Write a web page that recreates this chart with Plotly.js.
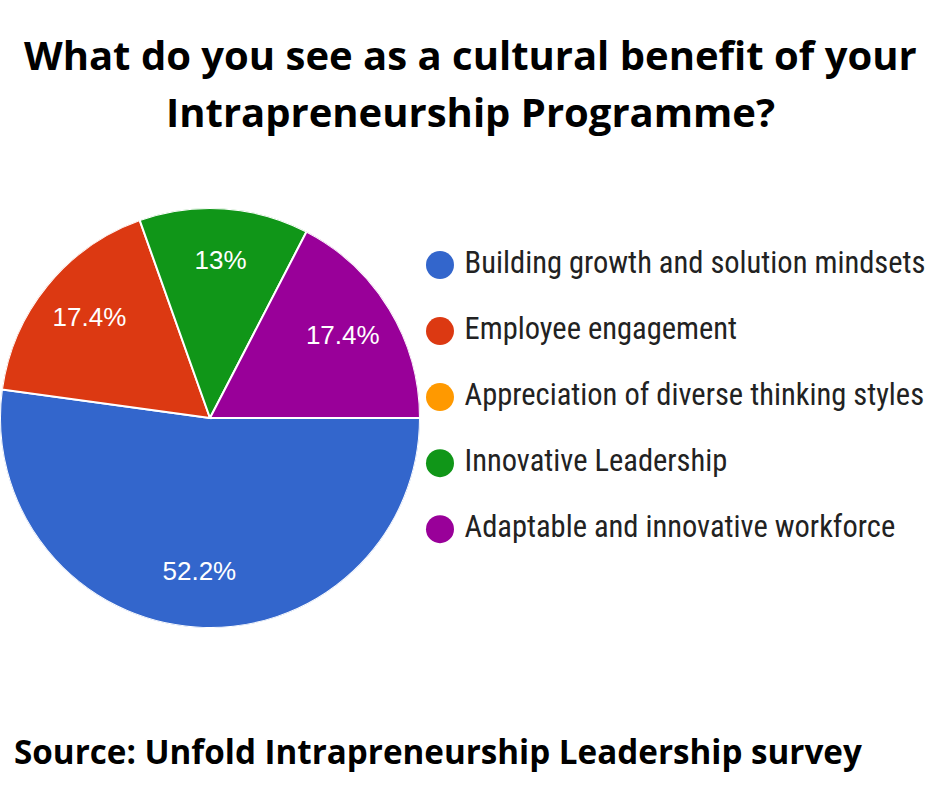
<html>
<head>
<script src="https://cdn.plot.ly/plotly-3.0.1.min.js"></script>
<style>
  body { margin: 0; background: #fff; }
  #myDiv { width: 940px; height: 788px; }
</style>
</head>
<body>
<div id="myDiv"></div>
<script>
// survey answers (23 responses)
var labels = ['Building growth and solution mindsets', 'Employee engagement',
  'Appreciation of diverse thinking styles', 'Innovative Leadership',
  'Adaptable and innovative workforce'];
var counts = [12, 4, 0, 3, 4];
var colours = ['#3366cc', '#dc3912', '#ff9900', '#109618', '#990099'];

// slice angles, in the order Google draws them (clockwise from 3 o'clock)
var total = counts.reduce(function(a, b) { return a + b; }, 0);
var widths = [], mids = [], pcts = [];
var run = 0;
for (var i = 0; i < counts.length; i++) {
  var w = counts[i] / total * 360;
  widths.push(w);
  mids.push(run + w / 2);
  run += w;
  var p = Math.round(counts[i] / total * 1000) / 10;
  pcts.push(counts[i] > 0 ? p + '%' : '');
}

var slices = {
  type: 'barpolar',
  r: counts.map(function() { return 1; }),
  theta: mids,
  width: widths,
  text: labels,
  marker: {color: colours, line: {color: '#ffffff', width: 2}},
  showlegend: false,
  hoverinfo: 'text'
};

var sliceText = {
  type: 'scatterpolar',
  mode: 'text',
  r: counts.map(function() { return 0.74; }),
  theta: mids,
  text: pcts,
  textfont: {family: 'Liberation Sans, Arial, sans-serif', size: 26, color: '#ffffff'},
  showlegend: false,
  hoverinfo: 'skip'
};

// legend drawn as a marker column so the dots can be big like the original
var keyDots = {
  type: 'scatter',
  mode: 'markers',
  x: labels.map(function() { return 0; }),
  y: labels,
  marker: {color: colours, size: 28, symbol: 'circle'},
  cliponaxis: false,
  showlegend: false,
  hoverinfo: 'skip'
};
var keyText = {
  type: 'scatter',
  mode: 'text',
  x: labels.map(function() { return 0.5; }),
  y: labels,
  text: labels,
  textposition: 'middle right',
  textfont: {family: 'Liberation Sans Narrow, Roboto Condensed, Arial Narrow, sans-serif', size: 30.5, color: '#222222'},
  cliponaxis: false,
  showlegend: false,
  hoverinfo: 'skip'
};

var layout = {
  width: 940,
  height: 788,
  margin: {l: 0, r: 0, t: 0, b: 0},
  paper_bgcolor: '#ffffff',
  plot_bgcolor: '#ffffff',
  showlegend: false,
  polar: {
    domain: {x: [0, 0.4468], y: [0.203, 0.736]},
    bgcolor: 'rgba(0,0,0,0)',
    radialaxis: {range: [0, 1], visible: false},
    angularaxis: {rotation: 0, direction: 'clockwise', visible: false}
  },
  xaxis: {domain: [0.45, 1], range: [-0.345, 10.155], visible: false, fixedrange: true},
  yaxis: {domain: [0.2865, 0.7056], type: 'category', range: [4.5, -0.5], visible: false, fixedrange: true},
  annotations: [
    {text: '<b>What do you see as a cultural benefit of your</b>', xref: 'paper', yref: 'paper',
     x: 0.5, y: 1 - 54 / 788, xanchor: 'center', yanchor: 'middle', showarrow: false,
     font: {family: 'Open Sans, sans-serif', size: 40, color: '#000000'}},
    {text: '<b>Intrapreneurship Programme?</b>', xref: 'paper', yref: 'paper',
     x: 0.5, y: 1 - 112 / 788, xanchor: 'center', yanchor: 'middle', showarrow: false,
     font: {family: 'Open Sans, sans-serif', size: 40, color: '#000000'}},
    {text: '<b>Source: Unfold Intrapreneurship Leadership survey</b>', xref: 'paper', yref: 'paper',
     x: 12 / 940, y: 1 - 751 / 788, xanchor: 'left', yanchor: 'middle', showarrow: false,
     font: {family: 'Open Sans, sans-serif', size: 33.2, color: '#000000'}}
  ]
};

Plotly.newPlot('myDiv', [slices, sliceText, keyDots, keyText], layout, {displayModeBar: false, staticPlot: true});
</script>
</body>
</html>
